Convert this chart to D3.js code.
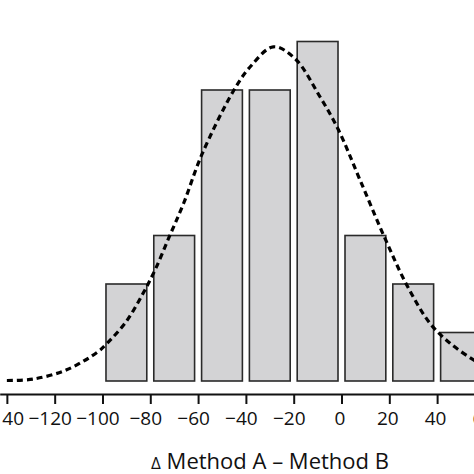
<!DOCTYPE html>
<html>
<head>
<meta charset="utf-8">
<script src="https://cdn.jsdelivr.net/npm/d3@7/dist/d3.min.js"></script>
<style>
  body { margin: 0; background: #fff; }
  svg { display: block; }
</style>
</head>
<body>
<div id="chart"></div>
<script>
// histogram bins (lower edge, upper edge) and counts
var bin_lo = [-100, -80, -60, -40, -20, 0, 20, 40]
var bin_hi = [-80, -60, -40, -20, 0, 20, 40, 60]
var counts = [2, 3, 6, 6, 7, 3, 2, 1]
// fitted normal curve
var curve_x = [-140, -129, -115, -102, -98, -90, -83, -78, -72, -66, -58.5, -45, -38, -28.5, -19.5, -9, -1.3, 7.7, 18.2, 27.3, 37, 45.4, 55.1, 62]
var curve_y = [0.01, 0.04, 0.23, 0.6, 0.78, 1.23, 1.81, 2.29, 2.98, 3.67, 4.66, 6.0, 6.49, 6.89, 6.65, 5.86, 5.18, 4.15, 2.94, 1.98, 1.19, 0.78, 0.44, 0.26]
var tick_values = [-140, -120, -100, -80, -60, -40, -20, 0, 20, 40, 60]

var width = 474
var height = 474

var svg = d3.select("#chart").append("svg")
    .attr("width", width)
    .attr("height", height)

var x_scale = d3.scaleLinear()
    .domain([-143, 62])
    .range([-0.3, 489.7])
var y_scale = d3.scaleLinear()
    .domain([0, 7])
    .range([381, 41.5])

var bars = []
for (var i = 0; i < counts.length; ++i) {
    bars.push({ "lo": bin_lo[i], "hi": bin_hi[i], "n": counts[i] })
}

svg.selectAll(".bar").data(bars)
    .enter().append("rect")
    .attr("class", "bar")
    .attr("x", function (d) { return x_scale(d.lo) + 3.5 })
    .attr("width", function (d) { return x_scale(d.hi) - x_scale(d.lo) - 7 })
    .attr("y", function (d) { return y_scale(d.n) })
    .attr("height", function (d) { return y_scale(0) - y_scale(d.n) })
    .style("fill", "#d3d3d5")
    .style("stroke", "#2a2a2a")
    .style("stroke-width", 1.6)

var pts = curve_x.map(function (v, i) { return [v, curve_y[i]] })
var line = d3.line()
    .x(function (d) { return x_scale(d[0]) })
    .y(function (d) { return y_scale(d[1]) })
    .curve(d3.curveCatmullRom)

svg.append("path")
    .datum(pts)
    .attr("d", line)
    .style("fill", "none")
    .style("stroke", "#000")
    .style("stroke-width", 3.2)
    .style("stroke-dasharray", "6,4")

var axis = svg.append("g")
    .attr("transform", "translate(0,394)")
    .call(d3.axisBottom(x_scale).tickValues(tick_values).tickSize(10).tickSizeOuter(0).tickPadding(8))
axis.select(".domain").style("stroke", "#111").style("stroke-width", 2)
axis.selectAll(".tick line").style("stroke", "#111").style("stroke-width", 2)
axis.selectAll(".tick text")
    .attr("font-family", "Open Sans, sans-serif")
    .attr("font-size", 19)
    .attr("fill", "#111")
    .attr("dx", function (d) { return d < 0 ? -5 : -2 })

var title = svg.append("text")
    .attr("x", 270)
    .attr("y", 469)
    .attr("text-anchor", "middle")
    .attr("font-family", "Open Sans, sans-serif")
    .attr("font-size", 22)
    .attr("fill", "#111")
title.append("tspan").attr("font-size", 17).text("\u0394")
title.append("tspan").text(" Method A \u2013 Method B")
</script>
</body>
</html>
